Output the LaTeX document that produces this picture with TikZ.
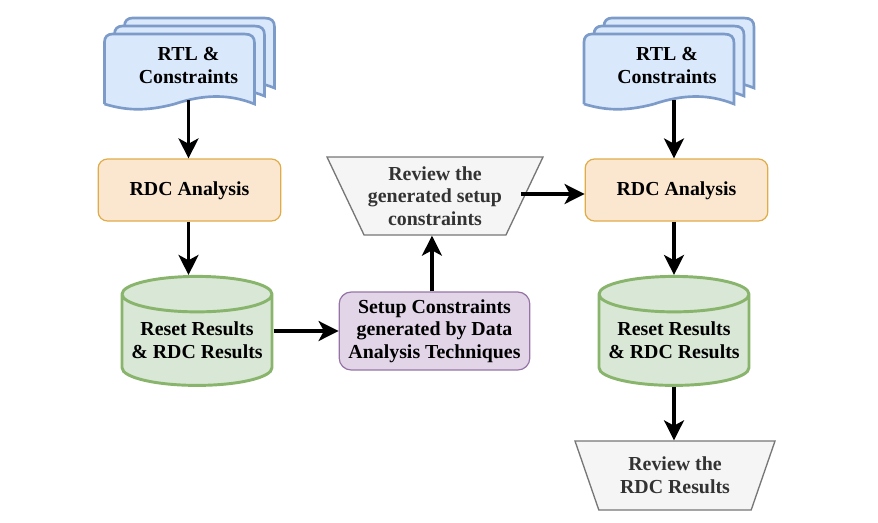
\documentclass[tikz,border=0pt]{standalone}
\usepackage{fontspec}
\setmainfont{Liberation Serif}
\usetikzlibrary{arrows.meta,shapes.geometric}
\definecolor{docfill}{HTML}{DAE8FC}
\definecolor{docline}{HTML}{7C9BC8}
\definecolor{rdcfill}{HTML}{FBE6D0}
\definecolor{rdcline}{HTML}{E0AC48}
\definecolor{resfill}{HTML}{D9E7D6}
\definecolor{resline}{HTML}{88B46C}
\definecolor{setfill}{HTML}{E1D5E7}
\definecolor{setline}{HTML}{9673A6}
\definecolor{revfill}{HTML}{F5F5F5}
\definecolor{revline}{HTML}{777777}
%one stack of three sheets, #1 = left edge, #2 = top edge of the front sheet
\newcommand{\sheetstack}[2]{
\foreach \dx/\dy in {20/-16,10/-8,0/0}{
	\draw[sheet] ({#1+\dx},{#2+\dy+70}) -- ({#1+\dx},{#2+\dy+8})
		.. controls ({#1+\dx},{#2+\dy+3}) and ({#1+\dx+3},{#2+\dy}) .. ({#1+\dx+8},{#2+\dy})
		-- ({#1+\dx+140},{#2+\dy})
		.. controls ({#1+\dx+147},{#2+\dy}) and ({#1+\dx+150},{#2+\dy+3}) .. ({#1+\dx+150},{#2+\dy+9})
		-- ({#1+\dx+150},{#2+\dy+70})
		.. controls ({#1+\dx+125},{#2+\dy+60}) and ({#1+\dx+100},{#2+\dy+60}) .. ({#1+\dx+70},{#2+\dy+70})
		.. controls ({#1+\dx+40},{#2+\dy+78}) and ({#1+\dx+20},{#2+\dy+76}) .. ({#1+\dx},{#2+\dy+70});
}
}
\begin{document}
\begin{tikzpicture}[x=0.75pt,y=-0.75pt,
every node/.style={font=\bfseries\fontsize{14.9}{17}\selectfont,align=center,inner sep=0pt},
sheet/.style={draw=docline,fill=docfill,line width=2pt},
doctext/.style={minimum width=112.5pt,minimum height=51.75pt},
rdcbox/.style={draw=rdcline,fill=rdcfill,line width=0.9pt,rounded corners=7pt,minimum width=137pt,minimum height=46.5pt,text height=12pt},
resdb/.style={cylinder,shape border rotate=90,aspect=0.27,draw=resline,fill=resfill,line width=2.2pt,minimum width=112.5pt,minimum height=81.75pt},
setbox/.style={draw=setline,fill=setfill,line width=0.9pt,rounded corners=9pt,minimum width=143pt,minimum height=58.5pt},
revbox/.style={trapezium,shape border rotate=180,trapezium stretches body,draw=revline,fill=revfill,line width=1pt,text=black!80},
flow/.style={-{Stealth[length=15pt,width=15pt,inset=4pt]},line width=2.4pt}]
\useasboundingbox (0,0) rectangle (878,522);

%left column
\sheetstack{104.5}{34}
\node[doctext] (rtl1) at (188.5,65.5) {RTL \&\\Constraints};
\node[rdcbox] (rdc1) at (189.5,190) {RDC Analysis};
\node[resdb] (res1) at (197,340.5) {Reset Results\\\& RDC Results};

%middle column
\node[setbox] (setup) at (434.5,331) {Setup Constraints\\generated by Data\\Analysis Techniques};
\node[revbox,trapezium left angle=58,trapezium right angle=58,minimum width=162pt,minimum height=58.5pt] (rev1) at (435,196) {Review the\\generated setup\\constraints};

%right column
\sheetstack{584}{34}
\node[doctext] (rtl2) at (667,65.5) {RTL \&\\Constraints};
\node[rdcbox] (rdc2) at (676.5,190) {RDC Analysis};
\node[resdb] (res2) at (674,340.5) {Reset Results\\\& RDC Results};
\node[revbox,trapezium left angle=57,trapezium right angle=57,minimum width=150pt,minimum height=51.75pt] (rev2) at (675,475.5) {Review the\\RDC Results};

%connector ends that are off the anchors
\coordinate (revout) at ([xshift=-3pt,yshift=1.5pt]rev1.east);
\coordinate (setout) at ([xshift=-1.9pt]setup.north);

%connectors
\draw[flow] (rtl1.south) -- (rtl1.south |- rdc1.north);
\draw[flow] (rdc1.south -| rtl1.south) -- (rtl1.south |- res1.north);
\draw[flow] (res1.east |- setup.west) -- (setup.west);
\draw[flow] (setout) -- (setout |- rev1.south);
\draw[flow] (revout) -- (revout -| rdc2.west);
\draw[flow] (rtl2.south -| res2.north) -- (rdc2.north -| res2.north);
\draw[flow] (rdc2.south -| res2.north) -- (res2.north);
\draw[flow] (res2.south) -- (rev2.north -| res2.south);
\end{tikzpicture}
\end{document}
